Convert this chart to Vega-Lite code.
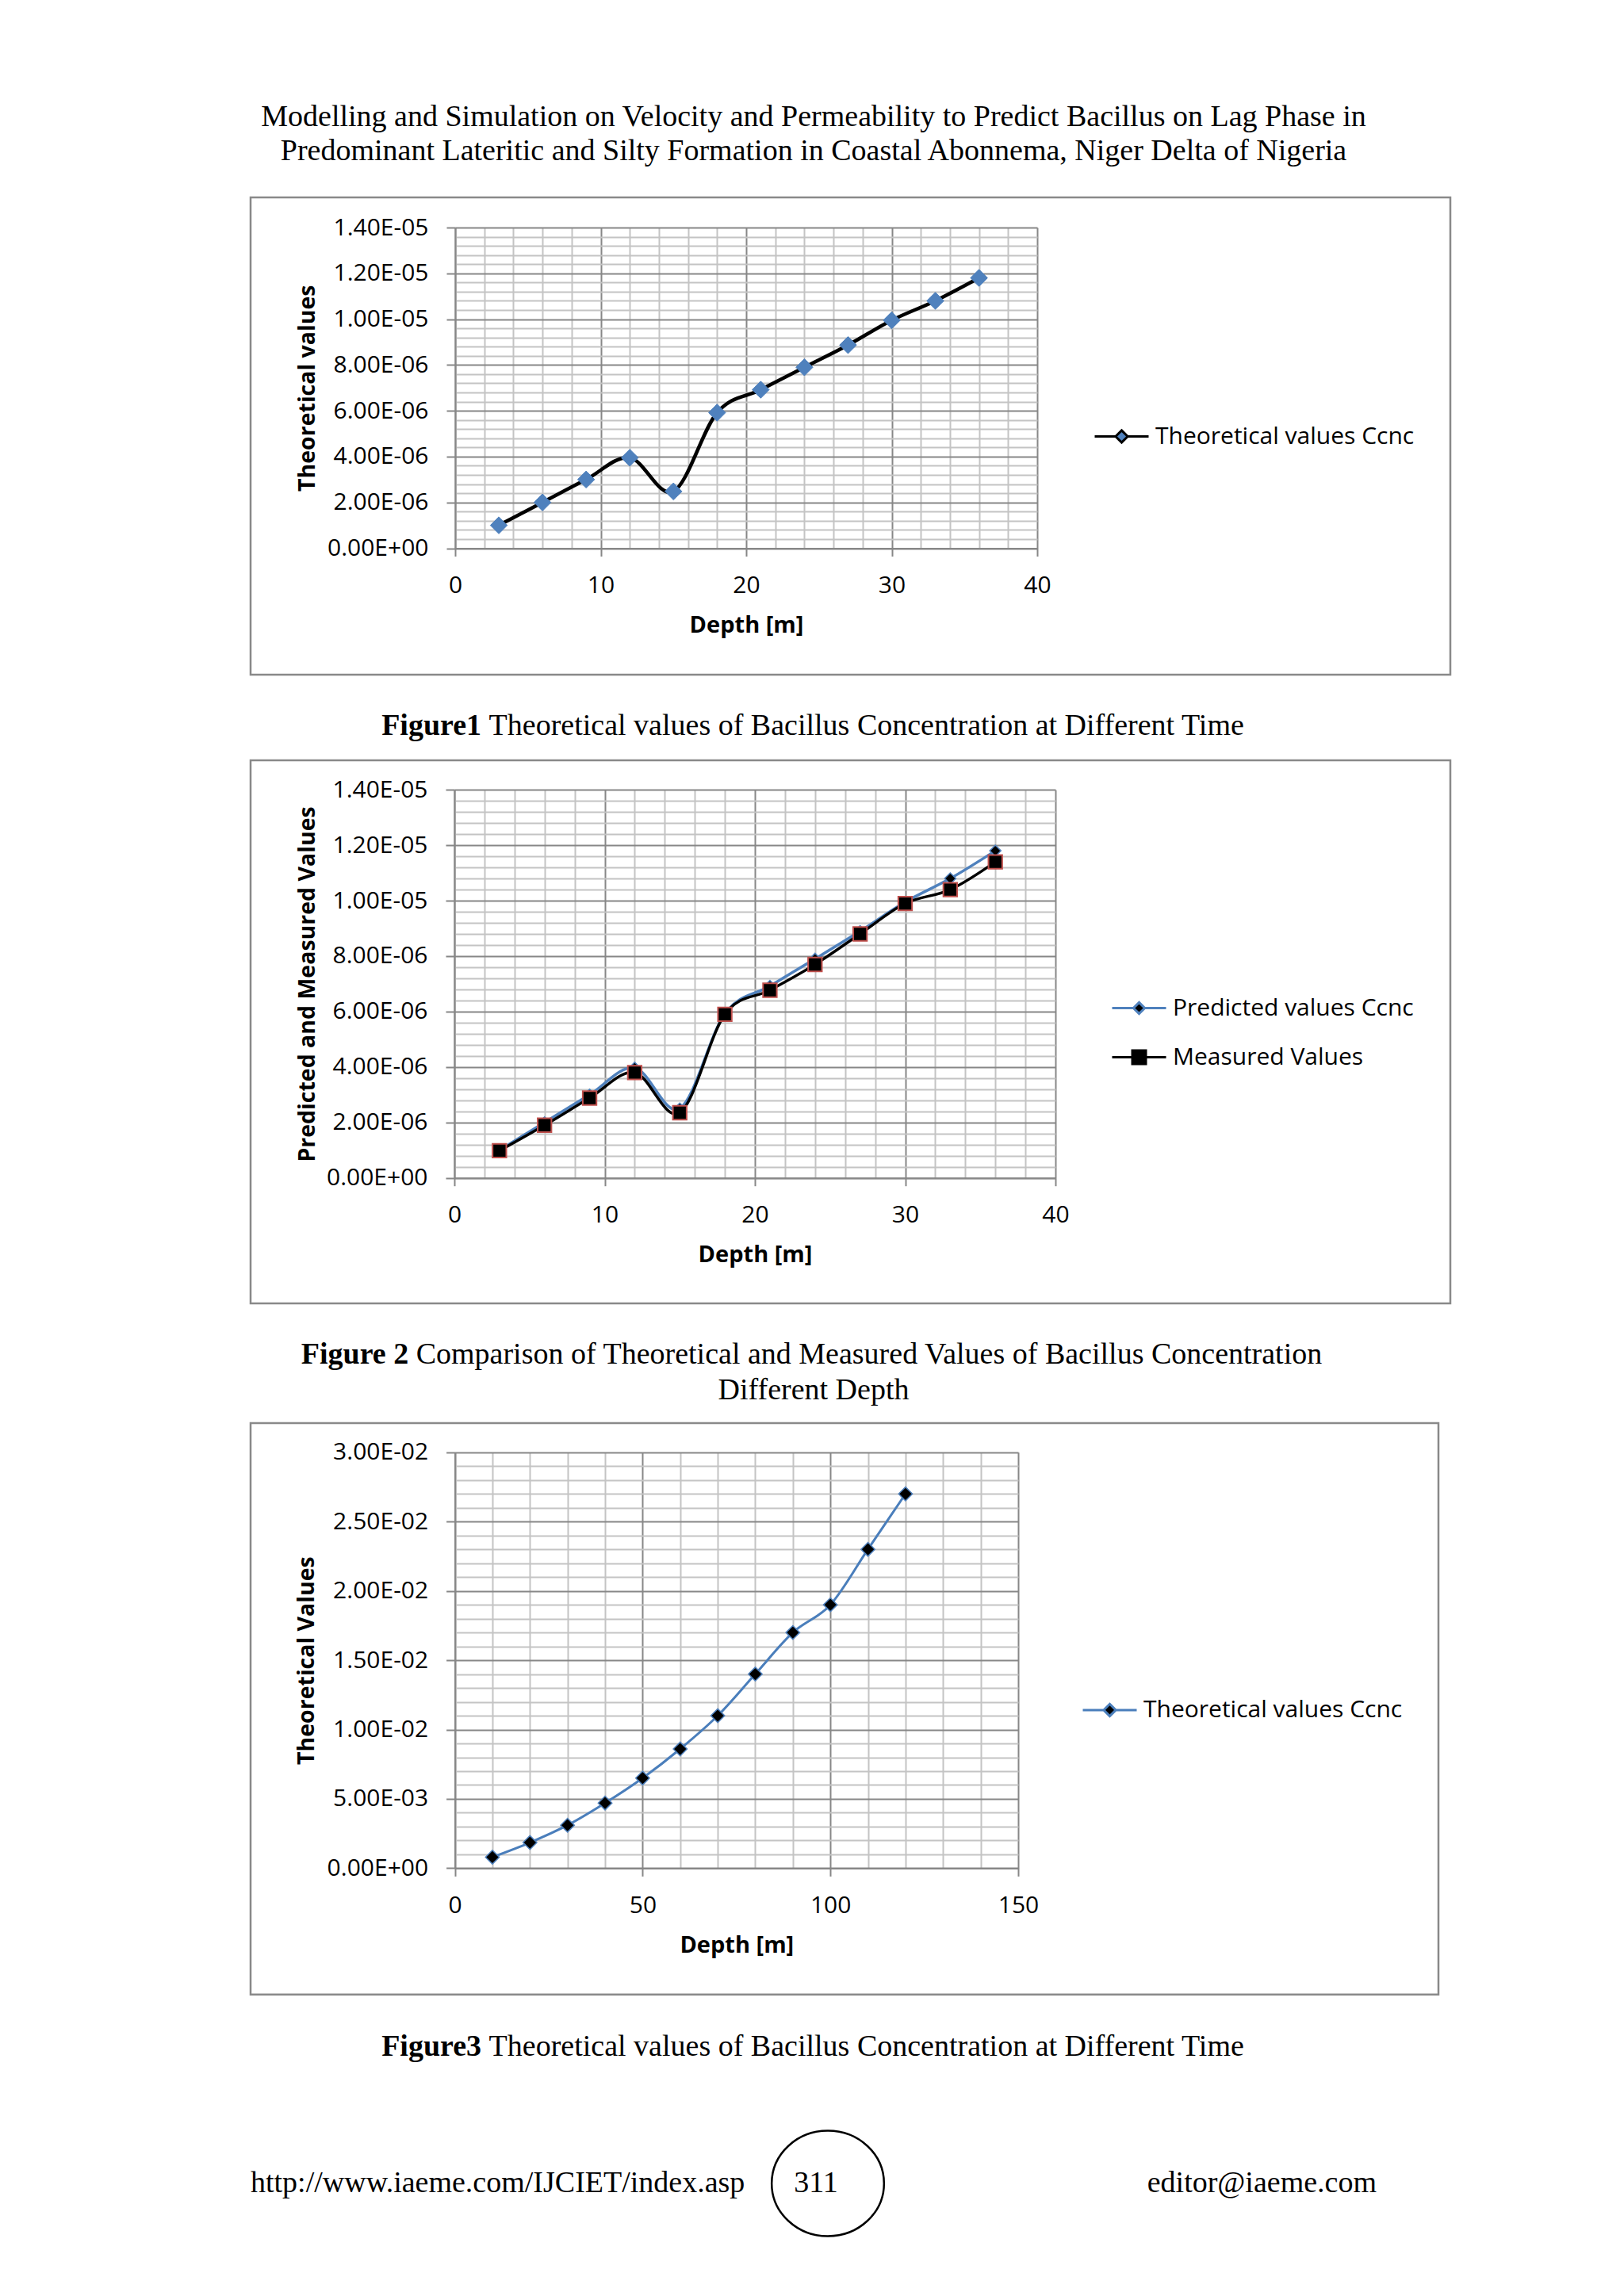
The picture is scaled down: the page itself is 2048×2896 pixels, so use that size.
{
  "$schema": "https://vega.github.io/schema/vega-lite/v6.json",
  "background": "#ffffff",
  "padding": {"left": 314, "top": 90, "right": 221, "bottom": 74},
  "bounds": "flush",
  "spacing": 0,
  "config": {
    "view": {"stroke": null},
    "axis": {"labelFont": "Open Sans", "labelFontSize": 30, "labelColor": "#000000", "domainColor": "#878787", "domainWidth": 2, "tickColor": "#878787", "tickWidth": 2, "gridWidth": 2, "titleFont": "Open Sans", "titleFontWeight": "bold", "titleColor": "#000000", "labelOverlap": false, "labelFlush": false, "labelBound": false},
    "legend": {"labelFont": "Open Sans", "labelFontSize": 30, "labelColor": "#000000", "labelLimit": 0, "padding": 0, "symbolSize": 1156, "symbolStrokeWidth": 3, "labelOffset": 24, "rowPadding": 28}
  },
  "resolve": {"scale": {"stroke": "independent", "fill": "independent", "shape": "independent"}, "legend": {"stroke": "independent", "fill": "independent", "shape": "independent"}},
  "vconcat": [
    {
      "width": 1420, "height": 158.5,
      "data": {"values": [{"heading": "Modelling and Simulation on Velocity and Permeability to Predict Bacillus on Lag Phase in\nPredominant Lateritic and Silty Formation in Coastal Abonnema, Niger Delta of Nigeria"}]},
      "mark": {"type": "text", "lineBreak": "\n", "lineHeight": 43, "baseline": "middle", "align": "center", "dy": -21, "font": "Liberation Serif", "fontSize": 38, "color": "#000000"},
      "encoding": {"text": {"field": "heading", "type": "nominal"}}
    },
    {
      "width": 1513, "height": 602,
      "view": {"stroke": "#898989", "strokeWidth": 2.5},
      "data": {"values": [
        {"depth": 3, "ccnc": 1.0e-6, "series": "Theoretical values  Ccnc"},
        {"depth": 6, "ccnc": 2.0e-6, "series": "Theoretical values  Ccnc"},
        {"depth": 9, "ccnc": 3.0e-6, "series": "Theoretical values  Ccnc"},
        {"depth": 12, "ccnc": 3.95e-6, "series": "Theoretical values  Ccnc"},
        {"depth": 15, "ccnc": 2.48e-6, "series": "Theoretical values  Ccnc"},
        {"depth": 18, "ccnc": 5.92e-6, "series": "Theoretical values  Ccnc"},
        {"depth": 21, "ccnc": 6.92e-6, "series": "Theoretical values  Ccnc"},
        {"depth": 24, "ccnc": 7.9e-6, "series": "Theoretical values  Ccnc"},
        {"depth": 27, "ccnc": 8.87e-6, "series": "Theoretical values  Ccnc"},
        {"depth": 30, "ccnc": 9.95e-6, "series": "Theoretical values  Ccnc"},
        {"depth": 33, "ccnc": 1.08e-5, "series": "Theoretical values  Ccnc"},
        {"depth": 36, "ccnc": 1.18e-5, "series": "Theoretical values  Ccnc"}
      ]},
      "encoding": {
        "y": {"field": "ccnc", "type": "quantitative",
          "scale": {"domain": [0, 1.4e-5], "range": [442.5, 38], "nice": false, "zero": false},
          "axis": {"title": "Theoretical values", "titleFontSize": 28.5, "titleX": -178, "titleBaseline": "alphabetic", "offset": -258,
            "values": [0,4e-7,8e-7,1.2e-6,1.6e-6,2e-6,2.4e-6,2.8e-6,3.2e-6,3.6e-6,4e-6,4.4e-6,4.8e-6,5.2e-6,5.6e-6,6e-6,6.4e-6,6.8e-6,7.2e-6,7.6e-6,8e-6,8.4e-6,8.8e-6,9.2e-6,9.6e-6,1e-5,1.04e-5,1.08e-5,1.12e-5,1.16e-5,1.2e-5,1.24e-5,1.28e-5,1.32e-5,1.36e-5,1.4e-5],
            "grid": true,
            "gridColor": {"condition": {"test": "abs(datum.value*500000-round(datum.value*500000))<0.01", "value": "#878787"}, "value": "#c4c4c4"},
            "tickSize": 11,
            "tickOpacity": {"condition": {"test": "abs(datum.value*500000-round(datum.value*500000))<0.01", "value": 1}, "value": 0},
            "labelPadding": 23,
            "labelExpr": "abs(datum.value*500000-round(datum.value*500000))<0.01 ? replace(replace(format(datum.value,'.2e'),'e-','E-0'),'e+','E+0') : ''"}}
      },
      "layer": [
        {
          "mark": {"type": "line", "interpolate": "cardinal", "strokeWidth": 4.5},
          "encoding": {
            "x": {"field": "depth", "type": "quantitative", "scale": {"domain": [0, 40], "range": [258, 992], "nice": false, "zero": false},
              "axis": {"orient": "bottom", "offset": -159.5, "values": [0,2,4,6,8,10,12,14,16,18,20,22,24,26,28,30,32,34,36,38,40], "grid": false, "tickSize": 10,
                "tickOpacity": {"condition": {"test": "datum.value % 10 === 0", "value": 1}, "value": 0},
                "labelPadding": 22, "labelExpr": "datum.value % 10 === 0 ? datum.label : ''",
                "title": "Depth [m]", "titleFontSize": 29, "titleY": 106, "titleBaseline": "alphabetic"}},
            "stroke": {"field": "series", "type": "nominal", "scale": {"domain": ["Theoretical values  Ccnc"], "range": ["#000000"]},
              "legend": {"title": null, "orient": "none", "legendX": 1080, "legendY": 283}}
          }
        },
        {
          "mark": {"type": "point", "shape": "diamond", "filled": true, "size": 460, "fill": "#4f81bd", "stroke": "#4f81bd", "strokeWidth": 1, "opacity": 1},
          "encoding": {
            "x": {"field": "depth", "type": "quantitative",
              "axis": {"orient": "top", "offset": -38, "values": [0,2,4,6,8,10,12,14,16,18,20,22,24,26,28,30,32,34,36,38,40], "grid": true,
                "gridColor": {"condition": {"test": "datum.value % 10 === 0", "value": "#878787"}, "value": "#c4c4c4"},
                "labels": false, "ticks": false, "domain": false, "title": null}}
          }
        },
        {
          "transform": [{"filter": "false"}],
          "mark": {"type": "point", "filled": true, "opacity": 1, "strokeWidth": 3},
          "encoding": {
            "x": {"field": "depth", "type": "quantitative", "axis": null},
            "stroke": {"field": "series", "type": "nominal", "scale": {"domain": ["Theoretical values  Ccnc"], "range": ["#000000"]},
              "legend": {"title": null, "orient": "none", "legendX": 1080, "legendY": 283}},
            "fill": {"field": "series", "type": "nominal", "scale": {"domain": ["Theoretical values  Ccnc"], "range": ["#4f81bd"]},
              "legend": {"title": null, "orient": "none", "legendX": 1080, "legendY": 283}},
            "shape": {"field": "series", "type": "nominal", "scale": {"domain": ["Theoretical values  Ccnc"], "range": ["M-2,0L-0.45,0M0.45,0L2,0M0,-0.45L0.45,0L0,0.45L-0.45,0Z"]},
              "legend": {"title": null, "orient": "none", "legendX": 1080, "legendY": 283}}
          }
        }
      ],
      "resolve": {"axis": {"x": "independent"}}
    },
    {
      "width": 1420, "height": 107.5,
      "data": {"values": [{"label": "Figure1", "caption": "Theoretical values of Bacillus Concentration at Different Time"}]},
      "layer": [
        {"mark": {"type": "text", "align": "right", "baseline": "alphabetic", "dx": -418.9, "dy": 21.75, "font": "Liberation Serif", "fontSize": 38, "fontWeight": "bold", "color": "#000000"},
         "encoding": {"text": {"field": "label", "type": "nominal"}}},
        {"mark": {"type": "text", "align": "left", "baseline": "alphabetic", "dx": -409.4, "dy": 21.75, "font": "Liberation Serif", "fontSize": 38, "color": "#000000"},
         "encoding": {"text": {"field": "caption", "type": "nominal"}}}
      ]
    },
    {
      "width": 1513, "height": 685,
      "view": {"stroke": "#898989", "strokeWidth": 2.5},
      "data": {"values": [
        {"depth": 3, "ccnc": 1.0e-6, "series": "Predicted values  Ccnc"},
        {"depth": 6, "ccnc": 2.0e-6, "series": "Predicted values  Ccnc"},
        {"depth": 9, "ccnc": 3.0e-6, "series": "Predicted values  Ccnc"},
        {"depth": 12, "ccnc": 3.97e-6, "series": "Predicted values  Ccnc"},
        {"depth": 15, "ccnc": 2.5e-6, "series": "Predicted values  Ccnc"},
        {"depth": 18, "ccnc": 5.92e-6, "series": "Predicted values  Ccnc"},
        {"depth": 21, "ccnc": 6.92e-6, "series": "Predicted values  Ccnc"},
        {"depth": 24, "ccnc": 7.9e-6, "series": "Predicted values  Ccnc"},
        {"depth": 27, "ccnc": 8.9e-6, "series": "Predicted values  Ccnc"},
        {"depth": 30, "ccnc": 9.95e-6, "series": "Predicted values  Ccnc"},
        {"depth": 33, "ccnc": 1.08e-5, "series": "Predicted values  Ccnc"},
        {"depth": 36, "ccnc": 1.18e-5, "series": "Predicted values  Ccnc"},
        {"depth": 3, "ccnc": 0.98e-6, "series": "Measured Values"},
        {"depth": 6, "ccnc": 1.9e-6, "series": "Measured Values"},
        {"depth": 9, "ccnc": 2.88e-6, "series": "Measured Values"},
        {"depth": 12, "ccnc": 3.8e-6, "series": "Measured Values"},
        {"depth": 15, "ccnc": 2.35e-6, "series": "Measured Values"},
        {"depth": 18, "ccnc": 5.9e-6, "series": "Measured Values"},
        {"depth": 21, "ccnc": 6.77e-6, "series": "Measured Values"},
        {"depth": 24, "ccnc": 7.7e-6, "series": "Measured Values"},
        {"depth": 27, "ccnc": 8.8e-6, "series": "Measured Values"},
        {"depth": 30, "ccnc": 9.9e-6, "series": "Measured Values"},
        {"depth": 33, "ccnc": 1.04e-5, "series": "Measured Values"},
        {"depth": 36, "ccnc": 1.14e-5, "series": "Measured Values"}
      ]},
      "encoding": {
        "y": {"field": "ccnc", "type": "quantitative",
          "scale": {"domain": [0, 1.4e-5], "range": [526.7, 37.2], "nice": false, "zero": false},
          "axis": {"title": "Predicted and Measured Values", "titleFontSize": 28.5, "titleX": -177, "titleBaseline": "alphabetic", "offset": -257,
            "values": [0,4e-7,8e-7,1.2e-6,1.6e-6,2e-6,2.4e-6,2.8e-6,3.2e-6,3.6e-6,4e-6,4.4e-6,4.8e-6,5.2e-6,5.6e-6,6e-6,6.4e-6,6.8e-6,7.2e-6,7.6e-6,8e-6,8.4e-6,8.8e-6,9.2e-6,9.6e-6,1e-5,1.04e-5,1.08e-5,1.12e-5,1.16e-5,1.2e-5,1.24e-5,1.28e-5,1.32e-5,1.36e-5,1.4e-5],
            "grid": true,
            "gridColor": {"condition": {"test": "abs(datum.value*500000-round(datum.value*500000))<0.01", "value": "#878787"}, "value": "#c4c4c4"},
            "tickSize": 11,
            "tickOpacity": {"condition": {"test": "abs(datum.value*500000-round(datum.value*500000))<0.01", "value": 1}, "value": 0},
            "labelPadding": 23,
            "labelExpr": "abs(datum.value*500000-round(datum.value*500000))<0.01 ? replace(replace(format(datum.value,'.2e'),'e-','E-0'),'e+','E+0') : ''"}}
      },
      "layer": [
        {
          "mark": {"type": "line", "interpolate": "cardinal", "strokeWidth": 3.5},
          "encoding": {
            "x": {"field": "depth", "type": "quantitative", "scale": {"domain": [0, 40], "range": [257, 1015], "nice": false, "zero": false},
              "axis": {"orient": "bottom", "offset": -158.3, "values": [0,2,4,6,8,10,12,14,16,18,20,22,24,26,28,30,32,34,36,38,40], "grid": false, "tickSize": 10,
                "tickOpacity": {"condition": {"test": "datum.value % 10 === 0", "value": 1}, "value": 0},
                "labelPadding": 22, "labelExpr": "datum.value % 10 === 0 ? datum.label : ''",
                "title": "Depth [m]", "titleFontSize": 29, "titleY": 106, "titleBaseline": "alphabetic"}},
            "stroke": {"field": "series", "type": "nominal", "scale": {"domain": ["Predicted values  Ccnc", "Measured Values"], "range": ["#4f81bd", "#000000"]},
              "legend": {"title": null, "orient": "none", "legendX": 1102, "legendY": 294}}
          }
        },
        {
          "transform": [{"filter": "datum.series === 'Predicted values  Ccnc'"}],
          "mark": {"type": "point", "shape": "diamond", "filled": true, "size": 200, "fill": "#000000", "stroke": "#4f81bd", "strokeWidth": 1.5, "opacity": 1},
          "encoding": {
            "x": {"field": "depth", "type": "quantitative",
              "axis": {"orient": "top", "offset": -37.2, "values": [0,2,4,6,8,10,12,14,16,18,20,22,24,26,28,30,32,34,36,38,40], "grid": true,
                "gridColor": {"condition": {"test": "datum.value % 10 === 0", "value": "#878787"}, "value": "#c4c4c4"},
                "labels": false, "ticks": false, "domain": false, "title": null}}
          }
        },
        {
          "transform": [{"filter": "datum.series === 'Measured Values'"}],
          "mark": {"type": "point", "shape": "square", "filled": true, "size": 300, "fill": "#000000", "stroke": "#c0504d", "strokeWidth": 2, "opacity": 1},
          "encoding": {"x": {"field": "depth", "type": "quantitative", "axis": null}}
        },
        {
          "transform": [{"filter": "false"}],
          "mark": {"type": "point", "filled": true, "opacity": 1, "strokeWidth": 3},
          "encoding": {
            "x": {"field": "depth", "type": "quantitative", "axis": null},
            "stroke": {"field": "series", "type": "nominal", "scale": {"domain": ["Predicted values  Ccnc", "Measured Values"], "range": ["#4f81bd", "#000000"]},
              "legend": {"title": null, "orient": "none", "legendX": 1102, "legendY": 294}},
            "fill": {"field": "series", "type": "nominal", "scale": {"domain": ["Predicted values  Ccnc", "Measured Values"], "range": ["#000000", "#000000"]},
              "legend": {"title": null, "orient": "none", "legendX": 1102, "legendY": 294}},
            "shape": {"field": "series", "type": "nominal", "scale": {"domain": ["Predicted values  Ccnc", "Measured Values"], "range": ["M-2,0L-0.42,0M0.42,0L2,0M0,-0.42L0.42,0L0,0.42L-0.42,0Z", "M-2,0L-0.5,0M0.5,0L2,0M-0.5,-0.5L0.5,-0.5L0.5,0.5L-0.5,0.5Z"]},
              "legend": {"title": null, "orient": "none", "legendX": 1102, "legendY": 294}}
          }
        }
      ],
      "resolve": {"axis": {"x": "independent"}}
    },
    {
      "width": 1420, "height": 150.6,
      "data": {"values": [{"label": "Figure 2", "caption": "Comparison of Theoretical and Measured Values of Bacillus Concentration", "line2": "Different Depth"}]},
      "layer": [
        {"mark": {"type": "text", "align": "right", "baseline": "alphabetic", "dx": -510.8, "dy": 0.7, "font": "Liberation Serif", "fontSize": 38, "fontWeight": "bold", "color": "#000000"},
         "encoding": {"text": {"field": "label", "type": "nominal"}}},
        {"mark": {"type": "text", "align": "left", "baseline": "alphabetic", "dx": -501.3, "dy": 0.7, "font": "Liberation Serif", "fontSize": 38, "color": "#000000"},
         "encoding": {"text": {"field": "caption", "type": "nominal"}}},
        {"mark": {"type": "text", "align": "center", "baseline": "alphabetic", "dy": 45.2, "font": "Liberation Serif", "fontSize": 38, "color": "#000000"},
         "encoding": {"text": {"field": "line2", "type": "nominal"}}}
      ]
    },
    {
      "width": 1498, "height": 720.8,
      "view": {"stroke": "#898989", "strokeWidth": 2.5},
      "data": {"values": [
        {"depth": 10, "ccnc": 0.0008, "series": "Theoretical values  Ccnc"},
        {"depth": 20, "ccnc": 0.00185, "series": "Theoretical values  Ccnc"},
        {"depth": 30, "ccnc": 0.0031, "series": "Theoretical values  Ccnc"},
        {"depth": 40, "ccnc": 0.0047, "series": "Theoretical values  Ccnc"},
        {"depth": 50, "ccnc": 0.0065, "series": "Theoretical values  Ccnc"},
        {"depth": 60, "ccnc": 0.0086, "series": "Theoretical values  Ccnc"},
        {"depth": 70, "ccnc": 0.011, "series": "Theoretical values  Ccnc"},
        {"depth": 80, "ccnc": 0.014, "series": "Theoretical values  Ccnc"},
        {"depth": 90, "ccnc": 0.017, "series": "Theoretical values  Ccnc"},
        {"depth": 100, "ccnc": 0.019, "series": "Theoretical values  Ccnc"},
        {"depth": 110, "ccnc": 0.023, "series": "Theoretical values  Ccnc"},
        {"depth": 120, "ccnc": 0.027, "series": "Theoretical values  Ccnc"}
      ]},
      "encoding": {
        "y": {"field": "ccnc", "type": "quantitative",
          "scale": {"domain": [0, 0.03], "range": [561.4, 36.8], "nice": false, "zero": false},
          "axis": {"title": "Theoretical Values", "titleFontSize": 28.5, "titleX": -178, "titleBaseline": "alphabetic", "offset": -257.6,
            "values": [0,0.001,0.002,0.003,0.004,0.005,0.006,0.007,0.008,0.009,0.01,0.011,0.012,0.013,0.014,0.015,0.016,0.017,0.018,0.019,0.02,0.021,0.022,0.023,0.024,0.025,0.026,0.027,0.028,0.029,0.03],
            "grid": true,
            "gridColor": {"condition": {"test": "abs(datum.value*200-round(datum.value*200))<0.01", "value": "#878787"}, "value": "#c4c4c4"},
            "tickSize": 11,
            "tickOpacity": {"condition": {"test": "abs(datum.value*200-round(datum.value*200))<0.01", "value": 1}, "value": 0},
            "labelPadding": 23,
            "labelExpr": "abs(datum.value*200-round(datum.value*200))<0.01 ? replace(replace(format(datum.value,'.2e'),'e-','E-0'),'e+','E+0') : ''"}}
      },
      "layer": [
        {
          "mark": {"type": "line", "interpolate": "cardinal", "strokeWidth": 3},
          "encoding": {
            "x": {"field": "depth", "type": "quantitative", "scale": {"domain": [0, 150], "range": [257.6, 968], "nice": false, "zero": false},
              "axis": {"orient": "bottom", "offset": -159.4, "values": [0,10,20,30,40,50,60,70,80,90,100,110,120,130,140,150], "grid": false, "tickSize": 10,
                "tickOpacity": {"condition": {"test": "datum.value % 50 === 0", "value": 1}, "value": 0},
                "labelPadding": 22, "labelExpr": "datum.value % 50 === 0 ? datum.label : ''",
                "title": "Depth [m]", "titleFontSize": 29, "titleY": 106, "titleBaseline": "alphabetic"}},
            "stroke": {"field": "series", "type": "nominal", "scale": {"domain": ["Theoretical values  Ccnc"], "range": ["#4a7ebb"]},
              "legend": {"title": null, "orient": "none", "legendX": 1065, "legendY": 343.4}}
          }
        },
        {
          "mark": {"type": "point", "shape": "diamond", "filled": true, "size": 300, "fill": "#000000", "stroke": "#4f81bd", "strokeWidth": 1.5, "opacity": 1},
          "encoding": {
            "x": {"field": "depth", "type": "quantitative",
              "axis": {"orient": "top", "offset": -36.8, "values": [0,10,20,30,40,50,60,70,80,90,100,110,120,130,140,150], "grid": true,
                "gridColor": {"condition": {"test": "datum.value % 50 === 0", "value": "#878787"}, "value": "#c4c4c4"},
                "labels": false, "ticks": false, "domain": false, "title": null}}
          }
        },
        {
          "transform": [{"filter": "false"}],
          "mark": {"type": "point", "filled": true, "opacity": 1, "strokeWidth": 3},
          "encoding": {
            "x": {"field": "depth", "type": "quantitative", "axis": null},
            "stroke": {"field": "series", "type": "nominal", "scale": {"domain": ["Theoretical values  Ccnc"], "range": ["#4a7ebb"]},
              "legend": {"title": null, "orient": "none", "legendX": 1065, "legendY": 343.4}},
            "fill": {"field": "series", "type": "nominal", "scale": {"domain": ["Theoretical values  Ccnc"], "range": ["#000000"]},
              "legend": {"title": null, "orient": "none", "legendX": 1065, "legendY": 343.4}},
            "shape": {"field": "series", "type": "nominal", "scale": {"domain": ["Theoretical values  Ccnc"], "range": ["M-2,0L-0.45,0M0.45,0L2,0M0,-0.45L0.45,0L0,0.45L-0.45,0Z"]},
              "legend": {"title": null, "orient": "none", "legendX": 1065, "legendY": 343.4}}
          }
        }
      ],
      "resolve": {"axis": {"x": "independent"}}
    },
    {
      "width": 1420, "height": 167.1,
      "data": {"values": [{"label": "Figure3", "caption": "Theoretical values of Bacillus Concentration at Different Time"}]},
      "layer": [
        {"mark": {"type": "text", "align": "right", "baseline": "alphabetic", "dx": -418.9, "dy": -7, "font": "Liberation Serif", "fontSize": 38, "fontWeight": "bold", "color": "#000000"},
         "encoding": {"text": {"field": "label", "type": "nominal"}}},
        {"mark": {"type": "text", "align": "left", "baseline": "alphabetic", "dx": -409.4, "dy": -7, "font": "Liberation Serif", "fontSize": 38, "color": "#000000"},
         "encoding": {"text": {"field": "caption", "type": "nominal"}}}
      ]
    },
    {
      "width": 1420, "height": 140,
      "data": {"values": [
        {"slot": "left", "label": "http://www.iaeme.com/IJCIET/index.asp"},
        {"slot": "page", "label": "311"},
        {"slot": "right", "label": "editor@iaeme.com"}
      ]},
      "encoding": {"x": {"field": "slot", "type": "ordinal", "scale": {"type": "point", "domain": ["left", "page", "right"], "padding": 0}, "axis": null}},
      "layer": [
        {"transform": [{"filter": "datum.slot === 'left'"}],
         "mark": {"type": "text", "align": "left", "baseline": "middle", "font": "Liberation Serif", "fontSize": 38, "color": "#000000"},
         "encoding": {"text": {"field": "label", "type": "nominal"}}},
        {"transform": [{"filter": "datum.slot === 'page'"}],
         "mark": {"type": "text", "align": "center", "baseline": "middle", "dx": 3, "font": "Liberation Serif", "fontSize": 38, "color": "#000000"},
         "encoding": {"text": {"field": "label", "type": "nominal"}}},
        {"transform": [{"filter": "datum.slot === 'page'"}],
         "mark": {"type": "point", "shape": "M-1.065,0A1.065,1,0,1,0,1.065,0A1.065,1,0,1,0,-1.065,0Z", "size": 17689, "filled": false, "stroke": "#000000", "strokeWidth": 2.5, "opacity": 1, "xOffset": 18}},
        {"transform": [{"filter": "datum.slot === 'right'"}],
         "mark": {"type": "text", "align": "right", "baseline": "middle", "font": "Liberation Serif", "fontSize": 38, "color": "#000000"},
         "encoding": {"text": {"field": "label", "type": "nominal"}}}
      ]
    }
  ]
}
